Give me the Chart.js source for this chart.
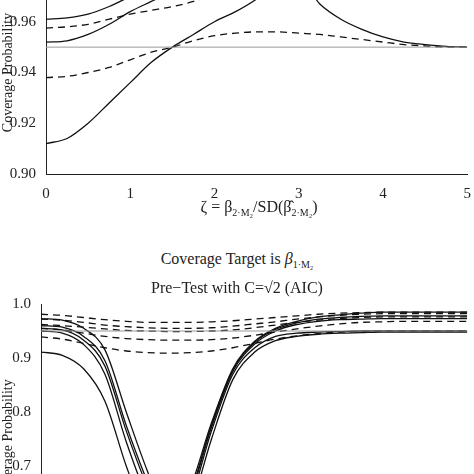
<!DOCTYPE html>
<html><head><meta charset="utf-8">
<script src="https://cdn.jsdelivr.net/npm/chart.js@4"></script>
<style>
body{margin:0;width:474px;height:474px;overflow:hidden;background:#fff;position:relative;font-family:"Liberation Serif",serif;}
.box{position:absolute;left:0;width:474px;}
.t{position:absolute;left:0;width:474px;text-align:center;font-size:16px;color:#222;}
</style></head><body>
<div class="box" style="top:-40px;height:250px"><canvas id="c1"></canvas></div>
<div class="t" style="top:198px;left:22px">ζ = β<sub style="font-size:10px">2·M₂</sub>/SD(β̂<sub style="font-size:10px">2·M₂</sub>)</div>
<div class="t" style="top:250px">Coverage Target is <i>β</i><sub style="font-size:10px">1·M₂</sub></div>
<div class="t" style="top:279px">Pre−Test with C=√2 (AIC)</div>
<div class="box" style="top:230px;height:380px"><canvas id="c2"></canvas></div>
<script>
const xs=[0,0.25,0.5,0.75,1,1.25,1.5,1.75,2,2.25,2.5,2.75,3,3.25,3.5,3.75,4,4.25,4.5,4.75,5];
// top panel
const topSolid=[
[.961,.9615,.963,.966,.970,.974,.977,.979,.980,.980,.979,.978,.977,.976,.975,.975,.975,.975,.975,.975,.975],
[.952,.9525,.955,.959,.964,.968,.972,.975,.977,.977,.977,.977,.977,.977,.977,.977,.977,.977,.977,.977,.977],
[.912,.914,.920,.928,.936,.944,.950,.955,.960,.964,.969,.976,.977,.967,.961,.957,.954,.952,.951,.9503,.950]];
const topDash=[
[.9575,.958,.959,.961,.963,.9645,.966,.968,.971,.973,.975,.975,.975,.975,.975,.975,.975,.975,.975,.975,.975],
[.938,.9385,.940,.942,.945,.948,.950,.9525,.9545,.9555,.956,.956,.9555,.955,.954,.953,.952,.951,.9505,.950,.950]];
// bottom panel
const botSolid=[
[.973,.970,.955,.915,.800,.690,.600,.660,.780,.880,.930,.955,.968,.976,.980,.983,.985,.985,.985,.985,.985],
[.960,.957,.940,.895,.775,.670,.580,.650,.775,.878,.928,.953,.965,.972,.975,.977,.978,.978,.978,.978,.978],
[.955,.952,.933,.885,.765,.660,.575,.645,.772,.875,.925,.950,.962,.968,.971,.972,.973,.973,.973,.973,.973],
[.950,.946,.925,.870,.745,.640,.565,.635,.765,.870,.918,.940,.946,.948,.949,.950,.950,.950,.950,.950,.950],
[.911,.905,.880,.820,.700,.600,.550,.620,.750,.860,.910,.932,.940,.944,.946,.947,.948,.948,.948,.948,.948]];
const botDash=[
[.981,.979,.975,.971,.968,.966,.966,.966,.967,.969,.972,.975,.978,.981,.983,.984,.985,.985,.985,.985,.985],
[.972,.970,.966,.961,.958,.956,.955,.955,.956,.959,.963,.967,.972,.976,.979,.981,.982,.982,.982,.982,.982],
[.962,.960,.957,.954,.951,.950,.949,.949,.950,.952,.956,.961,.966,.970,.973,.975,.976,.976,.976,.976,.976],
[.955,.952,.946,.940,.936,.934,.933,.933,.934,.937,.942,.948,.954,.959,.963,.966,.967,.968,.968,.968,.968],
[.939,.935,.927,.919,.913,.910,.909,.910,.913,.919,.927,.935,.941,.945,.948,.949,.950,.950,.950,.950,.950]];
const refLine=0.95;

function ds(arr,dash){return arr.map(v=>({data:xs.map((x,i)=>({x,y:v[i]})),borderColor:'#111',borderWidth:1.3,borderDash:dash?[7,5]:[],pointRadius:0,cubicInterpolationMode:'monotone',fill:false}));}
function ref(){return {data:[{x:0,y:refLine},{x:5,y:refLine}],borderColor:'#999',borderWidth:1,pointRadius:0};}
const font={family:'Liberation Serif',size:15};
function mk(id,sets,ymin,ymax,step,dec,padTop,yw){
 new Chart(document.getElementById(id),{type:'line',data:{datasets:sets},
 options:{responsive:true,maintainAspectRatio:false,animation:false,
  layout:{padding:{top:padTop,right:3,left:0,bottom:0}},
  plugins:{legend:{display:false},tooltip:{enabled:false}},
  scales:{
   x:{type:'linear',min:0,max:5,ticks:{stepSize:1,color:'#222',font},grid:{display:false},border:{color:'#222'},afterFit(a){a.height=36;}},
   y:{min:ymin,max:ymax,ticks:{stepSize:step,color:'#222',font,padding:2,callback:v=>v.toFixed(dec)},
      title:{display:true,text:'Coverage Probability',color:'#222',font:{family:'Liberation Serif',size:14},padding:{top:0,bottom:0}},
      grid:{display:false},border:{color:'#222'},afterFit(a){a.width=yw;}}
  }}});
}
mk('c1',[ref(),...ds(topSolid,false),...ds(topDash,true)],0.90,0.98,0.02,2,1,46);
mk('c2',[ref(),...ds(botSolid,false),...ds(botDash,true)],0.5,1.0,0.1,1,74,41);
</script></body></html>
